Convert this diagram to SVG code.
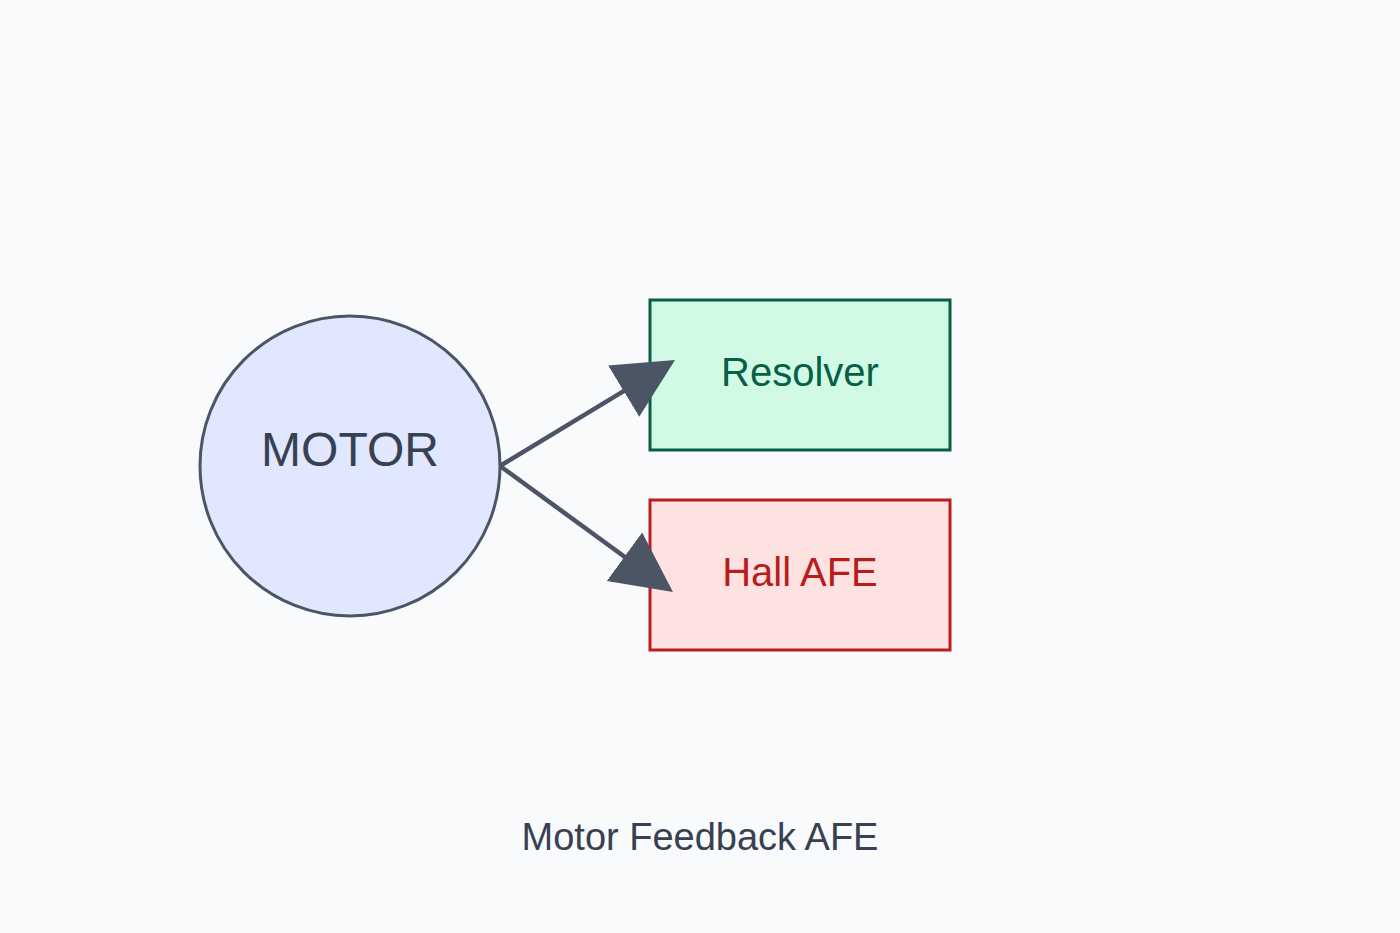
<svg xmlns="http://www.w3.org/2000/svg" width="1400" height="933" viewBox="0 0 1400 933">
<style>
text{font-family:"Liberation Sans",Arial,sans-serif;text-anchor:middle}
.edge{stroke:#4b5563;stroke-width:4.5;fill:none}
</style>
<defs>
<marker id="arr" markerUnits="userSpaceOnUse" markerWidth="62" markerHeight="62" refX="40" refY="30" orient="auto" viewBox="0 0 62 62">
<path d="M0,0 L60,30 L0,60 z" fill="#4b5563"/>
</marker>
</defs>
<rect width="1400" height="933" fill="#f8fafc"/>
<g id="motor">
<circle cx="350" cy="466" r="150" fill="#e0e7ff" stroke="#4b5563" stroke-width="3"/>
<text x="350" y="466" font-size="48" fill="#374151">MOTOR</text>
</g>
<g id="resolver">
<rect x="650" y="300" width="300" height="150" fill="#d1fae5" stroke="#065f46" stroke-width="3"/>
<text x="800" y="386" font-size="40" fill="#065f46">Resolver</text>
</g>
<g id="hall">
<rect x="650" y="500" width="300" height="150" fill="#fee2e2" stroke="#b91c1c" stroke-width="3"/>
<text x="800" y="586" font-size="40" fill="#b91c1c">Hall AFE</text>
</g>
<g id="connectors">
<line class="edge" x1="500" y1="466" x2="657.9" y2="370.4" marker-end="url(#arr)"/>
<line class="edge" x1="500" y1="466" x2="656.8" y2="580.2" marker-end="url(#arr)"/>
</g>
<text id="title" x="700" y="850" font-size="38" fill="#374151">Motor Feedback AFE</text>
</svg>
